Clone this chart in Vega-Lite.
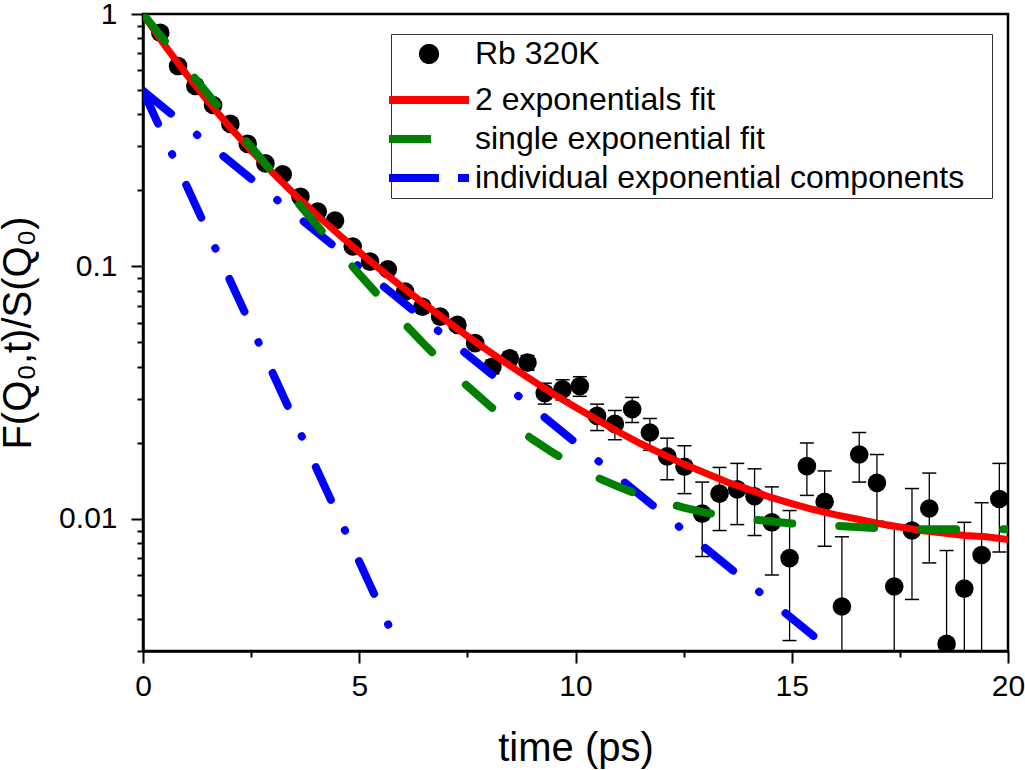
{
  "$schema": "https://vega.github.io/schema/vega-lite/v6.json",
  "width": 865,
  "height": 637,
  "autosize": "none",
  "padding": {"left": 143, "top": 14, "right": 17, "bottom": 119},
  "background": "white",
  "config": {
    "font": "Liberation Sans",
    "view": {"stroke": "black", "strokeWidth": 2.5},
    "axis": {
      "domainColor": "black", "domainWidth": 2.5,
      "tickColor": "black", "tickWidth": 2,
      "labelColor": "black", "labelFont": "Liberation Sans", "labelFontSize": 30,
      "titleColor": "black", "titleFont": "Liberation Sans", "titleFontSize": 40, "titleFontWeight": "normal",
      "grid": false, "labelOverlap": false, "labelBound": false, "labelFlush": false
    }
  },
  "datasets": {
    "pts": [
      {"t": 0.40, "v": 0.843, "lo": 0.826, "hi": 0.860},
      {"t": 0.81, "v": 0.622, "lo": 0.609, "hi": 0.635},
      {"t": 1.21, "v": 0.519, "lo": 0.508, "hi": 0.530},
      {"t": 1.62, "v": 0.436, "lo": 0.427, "hi": 0.445},
      {"t": 2.02, "v": 0.367, "lo": 0.359, "hi": 0.375},
      {"t": 2.42, "v": 0.306, "lo": 0.299, "hi": 0.313},
      {"t": 2.83, "v": 0.256, "lo": 0.250, "hi": 0.262},
      {"t": 3.23, "v": 0.232, "lo": 0.227, "hi": 0.237},
      {"t": 3.64, "v": 0.189, "lo": 0.185, "hi": 0.193},
      {"t": 4.04, "v": 0.165, "lo": 0.161, "hi": 0.169},
      {"t": 4.44, "v": 0.152, "lo": 0.148, "hi": 0.156},
      {"t": 4.85, "v": 0.120, "lo": 0.117, "hi": 0.123},
      {"t": 5.25, "v": 0.1045, "lo": 0.1020, "hi": 0.1070},
      {"t": 5.66, "v": 0.0975, "lo": 0.0950, "hi": 0.1000},
      {"t": 6.06, "v": 0.0795, "lo": 0.0770, "hi": 0.0820},
      {"t": 6.46, "v": 0.0693, "lo": 0.0668, "hi": 0.0718},
      {"t": 6.87, "v": 0.0633, "lo": 0.0608, "hi": 0.0658},
      {"t": 7.27, "v": 0.0587, "lo": 0.0562, "hi": 0.0612},
      {"t": 7.68, "v": 0.0497, "lo": 0.0472, "hi": 0.0522},
      {"t": 8.08, "v": 0.0401, "lo": 0.0376, "hi": 0.0426},
      {"t": 8.48, "v": 0.0433, "lo": 0.0408, "hi": 0.0458},
      {"t": 8.89, "v": 0.0416, "lo": 0.0388, "hi": 0.0444},
      {"t": 9.29, "v": 0.0315, "lo": 0.0285, "hi": 0.0345},
      {"t": 9.70, "v": 0.0326, "lo": 0.0296, "hi": 0.0356},
      {"t": 10.10, "v": 0.0336, "lo": 0.0306, "hi": 0.0366},
      {"t": 10.50, "v": 0.0256, "lo": 0.0224, "hi": 0.0285},
      {"t": 10.91, "v": 0.0238, "lo": 0.0206, "hi": 0.0269},
      {"t": 11.31, "v": 0.0272, "lo": 0.0241, "hi": 0.0303},
      {"t": 11.72, "v": 0.0220, "lo": 0.0187, "hi": 0.0250},
      {"t": 12.12, "v": 0.0177, "lo": 0.0143, "hi": 0.0209},
      {"t": 12.52, "v": 0.0161, "lo": 0.0126, "hi": 0.0195},
      {"t": 12.93, "v": 0.0105, "lo": 0.0071, "hi": 0.0140},
      {"t": 13.33, "v": 0.0126, "lo": 0.0090, "hi": 0.0160},
      {"t": 13.74, "v": 0.0131, "lo": 0.0095, "hi": 0.0166},
      {"t": 14.14, "v": 0.0123, "lo": 0.0086, "hi": 0.0158},
      {"t": 14.54, "v": 0.0097, "lo": 0.0060, "hi": 0.0134},
      {"t": 14.95, "v": 0.0070, "lo": 0.0033, "hi": 0.0108},
      {"t": 15.35, "v": 0.0162, "lo": 0.0124, "hi": 0.0200},
      {"t": 15.76, "v": 0.0117, "lo": 0.0078, "hi": 0.0155},
      {"t": 16.16, "v": 0.0045, "lo": 0.0005, "hi": 0.0085},
      {"t": 16.56, "v": 0.0180, "lo": 0.0140, "hi": 0.0220},
      {"t": 16.97, "v": 0.0139, "lo": 0.0098, "hi": 0.0180},
      {"t": 17.37, "v": 0.0054, "lo": 0.0016, "hi": 0.0092},
      {"t": 17.78, "v": 0.0090, "lo": 0.0048, "hi": 0.0132},
      {"t": 18.18, "v": 0.0110, "lo": 0.0067, "hi": 0.0152},
      {"t": 18.58, "v": 0.0032, "lo": 0.0005, "hi": 0.0075},
      {"t": 18.99, "v": 0.0053, "lo": 0.0009, "hi": 0.0097},
      {"t": 19.39, "v": 0.0072, "lo": 0.0028, "hi": 0.0116},
      {"t": 19.80, "v": 0.0120, "lo": 0.0074, "hi": 0.0166},
      {"t": 20.20, "v": 0.0065, "lo": 0.0019, "hi": 0.0111}
    ],
    "twoexp": [
      {"t": 0, "v": 0.9995}, {"t": 0.5, "v": 0.7529}, {"t": 1, "v": 0.5777}, {"t": 1.5, "v": 0.4510},
      {"t": 2, "v": 0.3578}, {"t": 2.5, "v": 0.2880}, {"t": 3, "v": 0.2348}, {"t": 3.5, "v": 0.1935},
      {"t": 4, "v": 0.1610}, {"t": 4.5, "v": 0.1351}, {"t": 5, "v": 0.1141}, {"t": 5.5, "v": 0.0969},
      {"t": 6, "v": 0.0828}, {"t": 6.5, "v": 0.0711}, {"t": 7, "v": 0.0613}, {"t": 7.5, "v": 0.0530},
      {"t": 8, "v": 0.0461}, {"t": 8.5, "v": 0.0403}, {"t": 9, "v": 0.0354}, {"t": 9.5, "v": 0.0312},
      {"t": 10, "v": 0.0277}, {"t": 10.5, "v": 0.0247}, {"t": 11, "v": 0.0221}, {"t": 11.5, "v": 0.0199},
      {"t": 12, "v": 0.0181}, {"t": 12.5, "v": 0.0165}, {"t": 13, "v": 0.0152}, {"t": 13.5, "v": 0.0140},
      {"t": 14, "v": 0.0131}, {"t": 14.5, "v": 0.0122}, {"t": 15, "v": 0.0115}, {"t": 15.5, "v": 0.0109},
      {"t": 16, "v": 0.0104}, {"t": 16.5, "v": 0.0100}, {"t": 17, "v": 0.0096}, {"t": 17.5, "v": 0.0093},
      {"t": 18, "v": 0.0090}, {"t": 18.5, "v": 0.0088}, {"t": 19, "v": 0.0086}, {"t": 19.5, "v": 0.0085},
      {"t": 20, "v": 0.0083}
    ],
    "oneexp": [
      {"t": 0, "v": 1.0}, {"t": 0.5, "v": 0.7835}, {"t": 1, "v": 0.6143}, {"t": 1.5, "v": 0.4821},
      {"t": 2, "v": 0.3787}, {"t": 2.5, "v": 0.2980}, {"t": 3, "v": 0.2349}, {"t": 3.5, "v": 0.1855},
      {"t": 4, "v": 0.1470}, {"t": 4.5, "v": 0.1168}, {"t": 5, "v": 0.0933}, {"t": 5.5, "v": 0.0749},
      {"t": 6, "v": 0.0605}, {"t": 6.5, "v": 0.0492}, {"t": 7, "v": 0.0404}, {"t": 7.5, "v": 0.0336},
      {"t": 8, "v": 0.0282}, {"t": 8.5, "v": 0.0240}, {"t": 9, "v": 0.0207}, {"t": 9.5, "v": 0.0182},
      {"t": 10, "v": 0.0162}, {"t": 10.5, "v": 0.0146}, {"t": 11, "v": 0.0134}, {"t": 11.5, "v": 0.0124},
      {"t": 12, "v": 0.0117}, {"t": 12.5, "v": 0.0111}, {"t": 13, "v": 0.0106}, {"t": 13.5, "v": 0.0103},
      {"t": 14, "v": 0.0100}, {"t": 14.5, "v": 0.0098}, {"t": 15, "v": 0.0096}, {"t": 15.5, "v": 0.0095},
      {"t": 16, "v": 0.0094}, {"t": 16.5, "v": 0.0093}, {"t": 17, "v": 0.0092}, {"t": 17.5, "v": 0.0092},
      {"t": 18, "v": 0.0091}, {"t": 18.5, "v": 0.0091}, {"t": 19, "v": 0.0091}, {"t": 19.5, "v": 0.0091},
      {"t": 20, "v": 0.0091}
    ],
    "components": [
      {"comp": "fast", "t": 0, "v": 0.496},
      {"comp": "fast", "t": 5.95, "v": 0.003},
      {"comp": "slow", "t": 0, "v": 0.496},
      {"comp": "slow", "t": 15.93, "v": 0.003}
    ]
  },
  "encoding": {
    "x": {
      "field": "t", "type": "quantitative",
      "scale": {"domain": [0, 20], "nice": false, "zero": false},
      "axis": {
        "title": "time (ps)",
        "values": [0, 2.5, 5, 7.5, 10, 12.5, 15, 17.5, 20],
        "labelExpr": "datum.value % 5 === 0 ? '' + datum.value : ''",
        "tickSize": {"condition": {"test": "datum.value % 5 === 0", "value": 12}, "value": 6},
        "labelPadding": 8,
        "titlePadding": 27
      }
    }
  },
  "layer": [
    {
      "data": {"name": "pts"},
      "mark": {"type": "rule", "color": "black", "strokeWidth": 1.3, "clip": true},
      "encoding": {
        "y": {
          "field": "lo", "type": "quantitative",
          "scale": {"type": "log", "domain": [0.003, 1], "nice": false},
          "axis": {
            "title": "F(Q₀,t)/S(Q₀)",
            "values": [0.003, 0.004, 0.005, 0.006, 0.007, 0.008, 0.009, 0.01, 0.02, 0.03, 0.04, 0.05, 0.06, 0.07, 0.08, 0.09, 0.1, 0.2, 0.3, 0.4, 0.5, 0.6, 0.7, 0.8, 0.9, 1],
            "labelExpr": "datum.value === 1 ? '1' : datum.value === 0.1 ? '0.1' : datum.value === 0.01 ? '0.01' : ''",
            "tickSize": {"condition": {"test": "datum.value === 1 || datum.value === 0.1 || datum.value === 0.01", "value": 12}, "value": 6},
            "labelPadding": 14,
            "titlePadding": 20
          }
        },
        "y2": {"field": "hi"}
      }
    },
    {
      "data": {"name": "pts"},
      "mark": {"type": "point", "shape": "stroke", "filled": false, "color": "black", "size": 196, "strokeWidth": 1.5, "opacity": 1, "clip": true},
      "encoding": {
        "y": {"field": "hi", "type": "quantitative", "scale": {"type": "log", "domain": [0.003, 1], "nice": false}}
      }
    },
    {
      "data": {"name": "pts"},
      "mark": {"type": "point", "shape": "stroke", "filled": false, "color": "black", "size": 196, "strokeWidth": 1.5, "opacity": 1, "clip": true},
      "encoding": {
        "y": {"field": "lo", "type": "quantitative", "scale": {"type": "log", "domain": [0.003, 1], "nice": false}}
      }
    },
    {
      "data": {"name": "pts"},
      "mark": {"type": "point", "shape": "circle", "filled": true, "size": 346, "opacity": 1, "clip": true},
      "encoding": {
        "y": {"field": "v", "type": "quantitative", "scale": {"type": "log", "domain": [0.003, 1], "nice": false}},
        "color": {
          "datum": "Rb 320K", "type": "nominal",
          "scale": {
            "domain": ["Rb 320K", "2 exponentials fit", "single exponential fit", "individual exponential components"],
            "range": ["#000000", "#ff0000", "#008000", "#0000ff"]
          },
          "legend": {
            "title": null,
            "orient": "none",
            "legendX": 248,
            "legendY": 20,
            "padding": 4,
            "strokeColor": "#333333",
            "fillColor": "white",
            "labelFont": "Liberation Sans",
            "labelFontSize": 32,
            "labelColor": "black",
            "labelLimit": 0,
            "symbolOffset": 18,
            "labelOffset": 30,
            "rowPadding": 7,
            "symbolSize": 147,
            "symbolStrokeWidth": 8,
            "symbolOpacity": 1,
            "symbolType": {"expr": "datum.value === 'Rb 320K' ? 'circle' : 'M-6.6,0H6.6'"},
            "symbolDash": {"expr": "datum.value === 'single exponential fit' ? [42, 60] : datum.value === 'individual exponential components' ? [50, 19, 11, 20] : [1, 0]"},
            "symbolFillColor": {"expr": "datum.value === 'Rb 320K' ? '#000000' : 'transparent'"},
            "symbolStrokeColor": {"expr": "datum.value === 'Rb 320K' ? '#000000' : datum.value === '2 exponentials fit' ? '#ff0000' : datum.value === 'single exponential fit' ? '#008000' : '#0000ff'"},
            "labelExpr": "datum.label + '\u2800'"
          }
        }
      }
    },
    {
      "data": {"name": "components"},
      "mark": {"type": "line", "strokeWidth": 8, "strokeDash": [36, 33.5, 0.5, 33.5], "strokeCap": "round", "clip": true},
      "encoding": {
        "y": {"field": "v", "type": "quantitative", "scale": {"type": "log", "domain": [0.003, 1], "nice": false}},
        "detail": {"field": "comp"},
        "color": {"datum": "individual exponential components", "type": "nominal"}
      }
    },
    {
      "data": {"name": "twoexp"},
      "mark": {"type": "line", "strokeWidth": 7, "strokeCap": "round", "clip": true},
      "encoding": {
        "y": {"field": "v", "type": "quantitative", "scale": {"type": "log", "domain": [0.003, 1], "nice": false}},
        "color": {"datum": "2 exponentials fit", "type": "nominal"}
      }
    },
    {
      "data": {"name": "oneexp"},
      "mark": {"type": "line", "strokeWidth": 8, "strokeDash": [35, 47], "strokeCap": "round", "clip": true},
      "encoding": {
        "y": {"field": "v", "type": "quantitative", "scale": {"type": "log", "domain": [0.003, 1], "nice": false}},
        "color": {"datum": "single exponential fit", "type": "nominal"}
      }
    }
  ]
}
